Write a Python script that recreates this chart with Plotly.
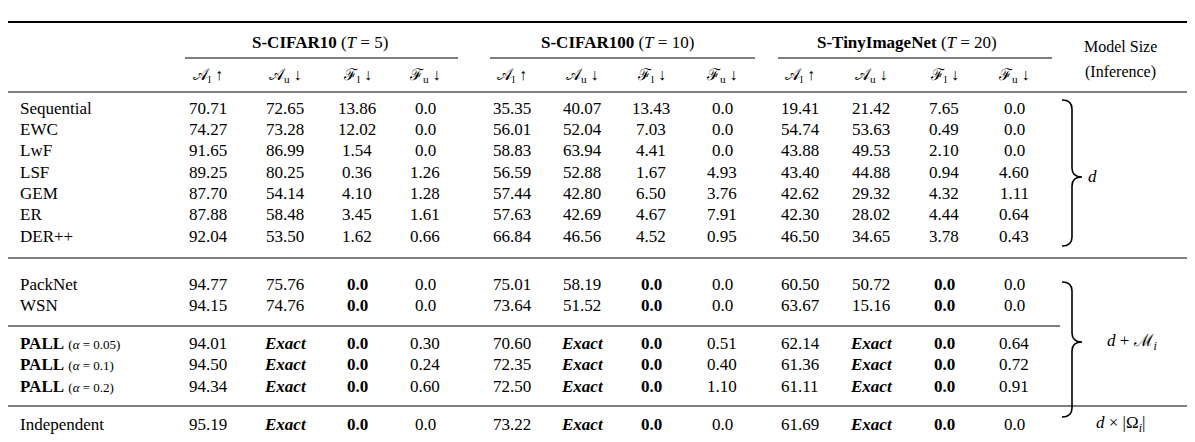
import plotly.graph_objects as go

W, H = 1195, 442
OFF = 8  # browser body margin
FONT = "Liberation Serif"

methods = ["Sequential", "EWC", "LwF", "LSF", "GEM", "ER", "DER++",
           "PackNet", "WSN",
           "<b>PALL</b> <span style='font-size:13px'>(<i>α</i> = 0.05)</span>",
           "<b>PALL</b> <span style='font-size:13px'>(<i>α</i> = 0.1)</span>",
           "<b>PALL</b> <span style='font-size:13px'>(<i>α</i> = 0.2)</span>",
           "Independent"]
groups = ["<b>S-CIFAR10</b> (<i>T</i> = 5)", "<b>S-CIFAR100</b> (<i>T</i> = 10)",
          "<b>S-TinyImageNet</b> (<i>T</i> = 20)"]
metrics = ["𝒜<sub>l</sub> ↑", "𝒜<sub>u</sub> ↓", "ℱ<sub>l</sub> ↓", "ℱ<sub>u</sub> ↓"]

cifar10 = [
    ["70.71", "72.65", "13.86", "0.0"], ["74.27", "73.28", "12.02", "0.0"],
    ["91.65", "86.99", "1.54", "0.0"], ["89.25", "80.25", "0.36", "1.26"],
    ["87.70", "54.14", "4.10", "1.28"], ["87.88", "58.48", "3.45", "1.61"],
    ["92.04", "53.50", "1.62", "0.66"], ["94.77", "75.76", "0.0", "0.0"],
    ["94.15", "74.76", "0.0", "0.0"], ["94.01", "Exact", "0.0", "0.30"],
    ["94.50", "Exact", "0.0", "0.24"], ["94.34", "Exact", "0.0", "0.60"],
    ["95.19", "Exact", "0.0", "0.0"]]
cifar100 = [
    ["35.35", "40.07", "13.43", "0.0"], ["56.01", "52.04", "7.03", "0.0"],
    ["58.83", "63.94", "4.41", "0.0"], ["56.59", "52.88", "1.67", "4.93"],
    ["57.44", "42.80", "6.50", "3.76"], ["57.63", "42.69", "4.67", "7.91"],
    ["66.84", "46.56", "4.52", "0.95"], ["75.01", "58.19", "0.0", "0.0"],
    ["73.64", "51.52", "0.0", "0.0"], ["70.60", "Exact", "0.0", "0.51"],
    ["72.35", "Exact", "0.0", "0.40"], ["72.50", "Exact", "0.0", "1.10"],
    ["73.22", "Exact", "0.0", "0.0"]]
tiny = [
    ["19.41", "21.42", "7.65", "0.0"], ["54.74", "53.63", "0.49", "0.0"],
    ["43.88", "49.53", "2.10", "0.0"], ["43.40", "44.88", "0.94", "4.60"],
    ["42.62", "29.32", "4.32", "1.11"], ["42.30", "28.02", "4.44", "0.64"],
    ["46.50", "34.65", "3.78", "0.43"], ["60.50", "50.72", "0.0", "0.0"],
    ["63.67", "15.16", "0.0", "0.0"], ["62.14", "Exact", "0.0", "0.64"],
    ["61.36", "Exact", "0.0", "0.72"], ["61.11", "Exact", "0.0", "0.91"],
    ["61.69", "Exact", "0.0", "0.0"]]
sizes = ["<i>d</i>", "<i>d</i> + ℳ<sub><i>i</i></sub>", "<i>d</i> × |Ω<sub><i>i</i></sub>|"]

row_y = [108, 129, 150, 172, 193, 214, 236, 284, 305, 343, 364, 386, 424]
col_x = [208, 285, 357, 425, 512, 582, 651, 722, 800, 871, 944, 1014]
group_x = [320, 617, 907]

ann = []
def txt(x, y, s, size=17, anchor="center"):
    ann.append(dict(x=x, y=y, text=s, showarrow=False, xanchor=anchor, yanchor="middle",
                    font=dict(family=FONT, size=size, color="black")))

for gx, g in zip(group_x, groups):
    txt(gx, 42, g)
for i, cx in enumerate(col_x):
    txt(cx, 75, metrics[i % 4], size=16)
txt(1120, 46, "Model Size", size=16)
txt(1120, 72, "(Inference)", size=16)

for r, (name, y) in enumerate(zip(methods, row_y)):
    txt(18, y, name, anchor="left")
    vals = cifar10[r] + cifar100[r] + tiny[r]
    for c, v in enumerate(vals):
        if v == "Exact":
            v = "<b><i>Exact</i></b>"
        elif c % 4 == 2 and r >= 7:
            v = "<b>" + v + "</b>"
        txt(col_x[c], y, v)

txt(1092, 176, sizes[0])
txt(1132, 342, sizes[1])
txt(1120, 424, sizes[2])

shapes = []
def hline(y, x0, x1, w=1):
    shapes.append(dict(type="line", x0=x0, x1=x1, y0=y, y1=y, line=dict(color="black", width=w)))
hline(22, 5, 1190, 1.8)
for a, b in [(185, 458), (490, 755), (778, 1052)]:
    hline(58, a, b)
hline(92, 5, 1190)
hline(258, 5, 1190)
hline(326, 5, 1060)
hline(406, 5, 1190)

def brace(x, y0, y1, ym, w):
    m = x + w / 2
    r = 9
    return (f"M {x},{y0} Q {m},{y0} {m},{y0+r} L {m},{ym-r} Q {m},{ym} {x+w},{ym} "
            f"Q {m},{ym} {m},{ym+r} L {m},{y1-r} Q {m},{y1} {x},{y1}")
for y0, y1, ym in [(100, 246, 177), (282, 417, 342)]:
    shapes.append(dict(type="path", path=brace(1062, y0, y1, ym, 20),
                       line=dict(color="black", width=1.6)))

fig = go.Figure()
fig.update_layout(width=W, height=H, margin=dict(l=0, r=0, t=0, b=0),
                  paper_bgcolor="white", plot_bgcolor="white",
                  xaxis=dict(range=[OFF, W + OFF], visible=False, fixedrange=True),
                  yaxis=dict(range=[H + OFF, OFF], visible=False, fixedrange=True),
                  annotations=ann, shapes=shapes, showlegend=False)
fig.write_html("out.html")
